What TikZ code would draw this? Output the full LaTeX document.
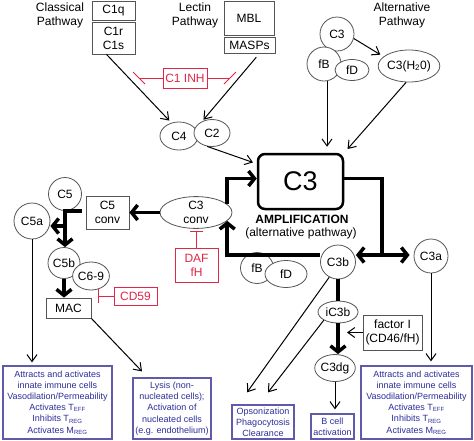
\documentclass[tikz,border=0pt]{standalone}
\usepackage{fontspec}
\setmainfont{Liberation Sans}
\usepackage{tikz}
\usetikzlibrary{shapes.geometric, arrows.meta}
\definecolor{compgray}{RGB}{85,85,85}
\definecolor{inhred}{RGB}{222,40,70}
\definecolor{outblue}{RGB}{45,45,155}
\definecolor{outframe}{RGB}{95,90,170}

\begin{document}
\begin{tikzpicture}[
      x=1pt, y=-1pt,
      font=\fontsize{12}{14}\selectfont,
      every node/.style={align=center, inner sep=0pt},
      comp/.style={draw=compgray, fill=white, ellipse, line width=0.8pt},
      cbox/.style={draw=compgray, fill=white, line width=0.8pt},
      inh/.style={draw=inhred, text=inhred, fill=white, line width=0.8pt},
      inhline/.style={draw=inhred, line width=0.9pt},
      outcome/.style={draw=outframe, text=outblue, fill=white, line width=1.2pt,
                      font=\fontsize{9}{11.2}\selectfont},
      thintip/.tip={Straight Barb[length=7pt,width=10pt]},
      bigtip/.tip={Straight Barb[length=6pt,width=15pt]},
      flow/.style={draw, line width=1pt, -thintip},
      bigline/.style={draw, line width=3.5pt},
      bigflow/.style={bigline, -bigtip},
    ]
    \useasboundingbox (0,0) rectangle (474,440);

    % classical and lectin pathways
    \node (classical) at (60,15) {Classical\\Pathway};
    \node[cbox, minimum width=43pt, minimum height=19pt] (C1q) at (113.5,10.5) {C1q};
    \node[cbox, minimum width=43pt, minimum height=32pt] (C1rs) at (113.5,38) {C1r\\C1s};
    \node (lectin) at (195,15) {Lectin\\Pathway};
    \node[cbox, minimum width=50pt, minimum height=34pt] (MBL) at (249,18) {MBL};
    \node[cbox, minimum width=51pt, minimum height=16pt] (MASPs) at (249.5,45) {MASPs};
    \node[inh, minimum width=44pt, minimum height=20pt] (C1inh) at (185,78) {C1 INH};
    \node[comp, minimum width=38pt, minimum height=28pt] (C4) at (179,136) {C4};
    \node[comp, minimum width=36pt, minimum height=27pt] (C2) at (212,133) {C2};

    % alternative pathway
    \node (alternative) at (402,15) {Alternative\\Pathway};
    \node[comp, minimum size=34pt] (C3alt) at (337,34) {C3};
    \node[comp, minimum size=34pt] (fB) at (324,64) {fB};
    \node[comp, minimum width=34pt, minimum height=21pt] (fD) at (352,70) {fD};
    \node[comp, minimum width=60pt, minimum height=32pt] (C3h) at (409,66) {C3(H\textsubscript{2}0)};

    % amplification loop
    \node[draw, line width=2.5pt, rounded corners=7pt, minimum width=85pt,
          minimum height=55pt, font=\fontsize{27}{30}\selectfont] (C3) at (300.5,181.5) {C3};
    \node[font=\bfseries\fontsize{12}{14}\selectfont] (ampl) at (302,219) {AMPLIFICATION};
    \node (altpath) at (301,233) {(alternative pathway)};
    \node[comp, minimum width=72pt, minimum height=30pt] (C3conv) at (196,212.5) {C3\\conv};
    \node[inh, minimum width=43pt, minimum height=34pt] (DAF) at (196.5,265) {DAF\\fH};
    \node[comp, minimum width=33pt, minimum height=31pt] (fB2) at (257,268) {fB};
    \node[comp, minimum width=42pt, minimum height=27pt] (fD2) at (286,274) {fD};

    % terminal pathway
    \node[cbox, minimum width=43pt, minimum height=33pt] (C5conv) at (107.5,212.5) {C5\\conv};
    \node[comp, minimum size=33pt] (C5) at (65,194) {C5};
    \node[comp, minimum size=36pt] (C5a) at (32,221) {C5a};
    \node[comp, minimum width=32pt, minimum height=31pt] (C5b) at (64,263) {C5b};
    \node[comp, minimum width=31pt, minimum height=28pt] (C69) at (91,276) {C6-9};
    \node[cbox, minimum width=45pt, minimum height=20pt] (MAC) at (68.5,308) {MAC};
    \node[inh, minimum width=43pt, minimum height=18pt] (CD59) at (135.5,296) {CD59};

    % C3 fragments
    \node[comp, minimum width=35pt, minimum height=34pt] (C3b) at (338,262) {C3b};
    \node[comp, minimum size=34pt] (C3a) at (431,256) {C3a};
    \node[comp, minimum width=40pt, minimum height=22pt] (iC3b) at (338,312) {iC3b};
    \node[comp, minimum width=28pt, minimum height=27pt] (C3dg) at (335,368) {C3dg};
    \node[cbox, minimum width=59pt, minimum height=35pt] (factorI) at (392.5,332.5) {factor I\\(CD46/fH)};

    % effects
    \node[outcome, minimum width=109pt, minimum height=73pt] (out5a) at (57.5,402.5)
      {Attracts and activates\\innate immune cells\\Vasodilation/Permeability\\Activates T\textsubscript{EFF}\\Inhibits T\textsubscript{REG}\\Activates M\textsubscript{REG}};
    \node[outcome, minimum width=78pt, minimum height=61pt] (outMAC) at (172,408.5)
      {Lysis (non-\\nucleated cells);\\Activation of\\nucleated cells\\(e.g. endothelium)};
    \node[outcome, minimum width=62pt, minimum height=34pt] (outOpso) at (263,422)
      {Opsonization\\Phagocytosis\\Clearance};
    \node[outcome, minimum width=43pt, minimum height=25pt] (outB) at (332.5,426.5)
      {B cell\\activation};
    \node[outcome, minimum width=111pt, minimum height=73pt] (out3a) at (416.5,402.5)
      {Attracts and activates\\innate immune cells\\Vasodilation/Permeability\\Activates T\textsubscript{EFF}\\Inhibits T\textsubscript{REG}\\Activates M\textsubscript{REG}};

    % activation arrows
    \draw[flow, shorten >=3pt] ([xshift=-7pt]C1rs.south) -- (C4.120);
    \draw[flow, shorten >=2pt, shorten <=5pt] ([xshift=10pt]MASPs.south) -- (C2.130);
    \coordinate (inhL) at (139,78);
    \coordinate (inhR) at (230,78);
    \draw[inhline] (C1inh.west) -- (inhL);
    \draw[inhline] ([shift={(-6,-6)}]inhL) -- ([shift={(6,6)}]inhL);
    \draw[inhline] (C1inh.east) -- (inhR);
    \draw[inhline] ([shift={(-6,6)}]inhR) -- ([shift={(6,-6)}]inhR);
    \draw[flow, shorten >=4pt] (C2.250) -- ([yshift=-11pt]C3.north west);
    \draw[flow] (C3alt.-15) -- ([shift={(-3,-2)}]C3h.160);
    \draw[flow, shorten >=6pt] (fB.-80) -- (fB.-80 |- C3.north);
    \draw[flow, shorten >=5pt] (C3h.-100) -- (C3.north east);

    % amplification
    \draw[bigflow] (C3conv.15) |- ([yshift=3pt]C3.west);
    \draw[bigflow] ([yshift=7pt]C3b.west) -| (C3conv.-15);
    \draw[inhline, -{Bar[width=13pt]}] (DAF.north) -- ++(0,-17);
    \coordinate (c3split) at (382,255);
    \draw[bigline] ([yshift=3pt]C3.east) -| (c3split);
    \draw[bigline, bigtip-bigtip, shorten >=4pt] (c3split -| C3b.east) -- (c3split -| C3a.west);

    % C5 cleavage
    \draw[bigflow] (C3conv.west) -- (C3conv.west -| C5conv.east);
    \draw[bigflow] (C5.south -| C5.east) -- (C5.south) -- (C5.south |- C5b.north);
    \coordinate (c5split) at (65,226);
    \draw[bigflow] (c5split) -- (c5split -| C5a.east);
    \draw[bigflow] (C5b.south) -- (C5b.south |- MAC.north);
    \draw[inhline, -{Bar[width=14pt]}] (CD59.west) -- ++(-16,0);

    % C3b breakdown
    \draw[bigline] (C3b.south) -- (iC3b.north);
    \draw[bigflow] (iC3b.south) -- (iC3b.south |- C3dg.north);
    \draw[flow, shorten >=9pt] (factorI.west) -- (factorI.west -| iC3b.south);

    % effects
    \draw[flow, shorten >=3pt] (C5a.south) -- (C5a.south |- out5a.north);
    \draw[flow] (MAC.south east) -- ([shift={(-30,-6)}]outMAC.north);
    \draw[flow] (C3b.240) -- ([shift={(-16,-12)}]outOpso.north);
    \draw[flow] (iC3b.210) -- ([shift={(5,-12)}]outOpso.north);
    \draw[flow, shorten >=4pt] (C3dg.south) -- (C3dg.south |- outB.north);
    \draw[flow, shorten >=4pt] (C3a.south) -- (C3a.south |- out3a.north);
  \end{tikzpicture}
\end{document}
